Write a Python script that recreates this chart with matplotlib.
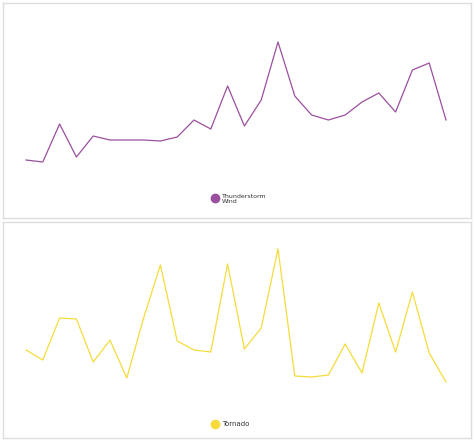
import matplotlib
matplotlib.use("Agg")
import matplotlib.pyplot as plt

x = list(range(26))
thunder = [40, 38, 76, 43, 64, 60, 60, 60, 59, 63, 80, 71, 114, 74, 100, 158, 104, 85, 80, 85, 98, 107, 88, 130, 137, 80]
tornado = [50, 40, 82, 81, 38, 60, 22, 82, 135, 59, 50, 48, 136, 51, 72, 151, 24, 23, 25, 56, 27, 97, 48, 108, 47, 18]

W, H = 474, 442
fig = plt.figure(figsize=(W/100, H/100), dpi=100)
sp = 16.8
xl = (-(26-3)/sp, 25 + (471-446)/sp)

def panel(top, bot, vals, color, ylim, label, ly):
    ax = fig.add_axes([3/W, 1-bot/H, 468/W, (bot-top)/H])
    ax.plot(x, vals, color=color, lw=0.9)
    ax.set_xlim(*xl); ax.set_ylim(*ylim)
    ax.set_xticks([]); ax.set_yticks([])
    for s in ax.spines.values():
        s.set_color("#dddddd"); s.set_linewidth(1)
    fig.lines.append(plt.Line2D([215/W], [1-ly/H], marker='o', markersize=6,
                                color=color, transform=fig.transFigure))
    if label:
        fig.text(222/W, 1-ly/H, label, fontsize=5, color="#333333", va="center")

panel(3, 218, thunder, "#9b4f9f", (-18, 197), "", 198)
fig.text(222/W, 1-194/H, "Thunderstorm\nWind", fontsize=4.5, color="#333333", va="top", linespacing=1.1)
panel(222, 438, tornado, "#f5dc3c", (-38, 178), "Tornado", 424)
fig.savefig("out.png", dpi=100)
